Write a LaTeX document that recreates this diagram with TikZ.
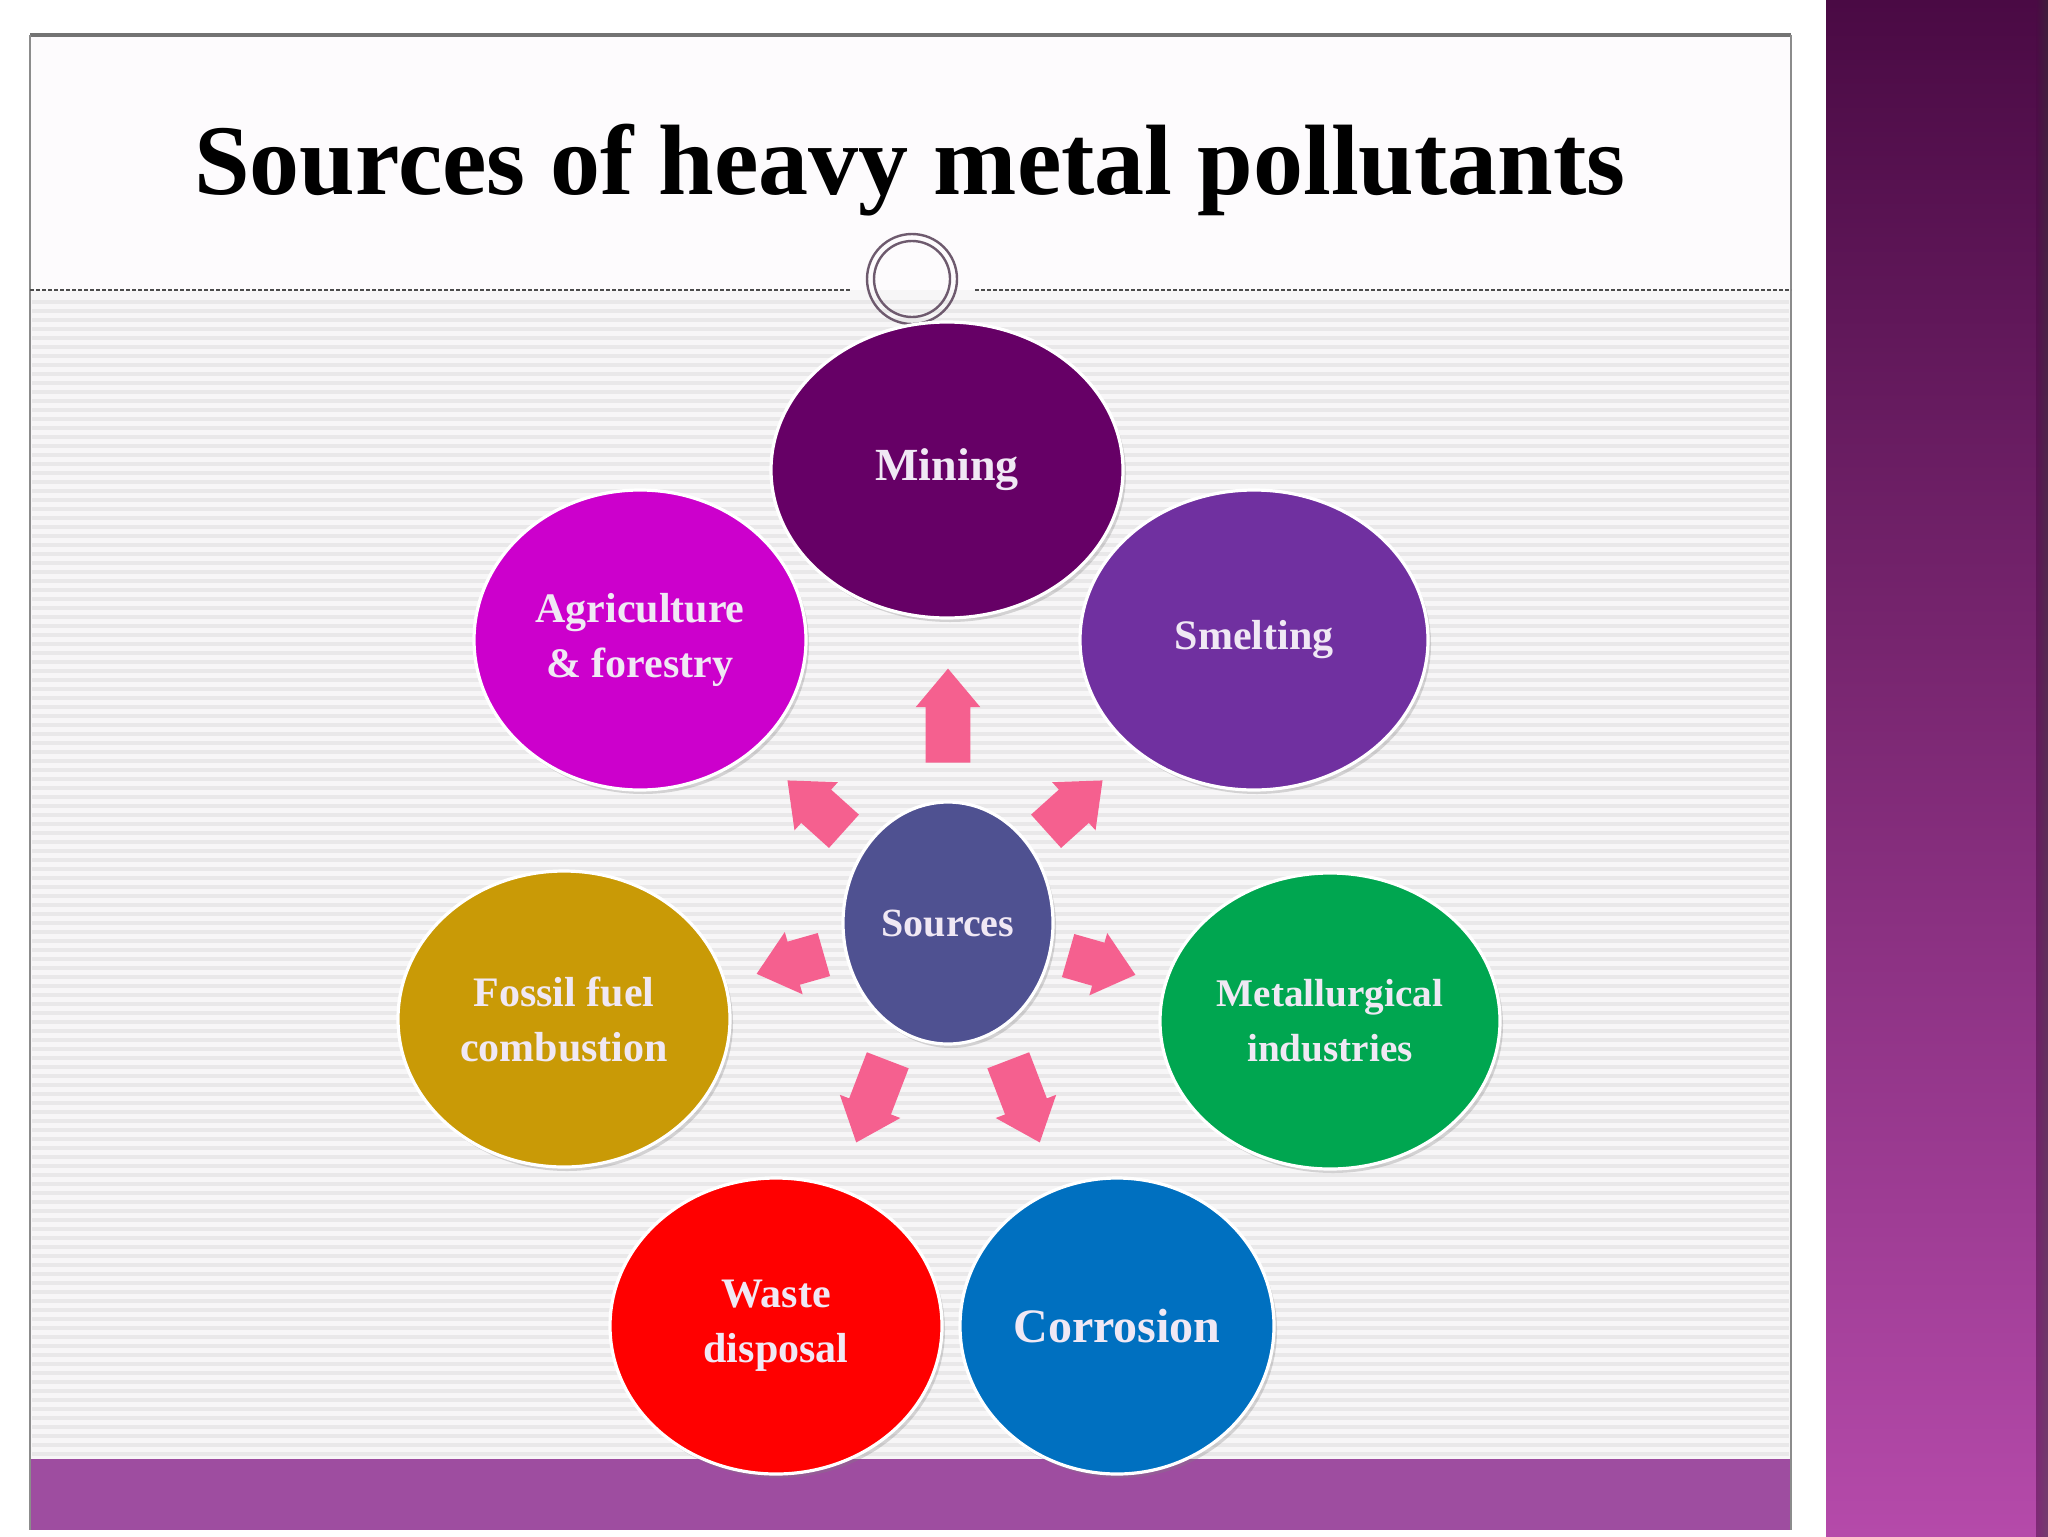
\documentclass[tikz,border=0pt]{standalone}
\usepackage{fontspec}
\setmainfont{Liberation Serif}
\usetikzlibrary{shapes.geometric,shapes.arrows,shadows}
\definecolor{bandtop}{HTML}{4A0A44}
\definecolor{bandbot}{HTML}{B54AAA}
\definecolor{bottomband}{HTML}{9E4DA0}
\definecolor{topbg}{HTML}{FDFBFD}
\definecolor{stripebg}{HTML}{F7F6F7}
\definecolor{stripec}{HTML}{E9E8E9}
\definecolor{ringc}{HTML}{6E5A6E}
\definecolor{txtc}{HTML}{F0E8F4}
\definecolor{pinkc}{HTML}{F5608F}
\definecolor{cmining}{HTML}{660066}
\definecolor{csmelt}{HTML}{7030A0}
\definecolor{cagri}{HTML}{CC00CC}
\definecolor{cfossil}{HTML}{C99A06}
\definecolor{cmetal}{HTML}{00A650}
\definecolor{cwaste}{HTML}{FF0000}
\definecolor{ccorr}{HTML}{0070C0}
\definecolor{csrc}{HTML}{4F5191}
\begin{document}
\begin{tikzpicture}[x=0.5pt,y=-0.5pt,
  blob/.style={ellipse, draw=white, line width=1.6pt, inner sep=0pt, text=txtc,
    font=\bfseries\fontsize{21}{27.5}\selectfont, align=center,
    drop shadow={shadow xshift=1.5pt, shadow yshift=-2pt, opacity=0.3}},
  blockarrow/.style={single arrow, fill=pinkc, draw=none, anchor=tip,
    inner xsep=0pt, inner ysep=11pt, single arrow head extend=5pt,
    single arrow tip angle=80},
  dashline/.style={draw=black!70, line width=1.2pt, dash pattern=on 2pt off 1pt}]
\useasboundingbox (0,0) rectangle (2048,1536);
\fill[white] (0,0) rectangle (2048,1536);
% right decorative band
\shade[top color=bandtop, bottom color=bandbot] (1826,0) rectangle (2048,1536);
\shade[left color=bandbot!0!bandtop, right color=black!80, opacity=0.5] (2036,0) rectangle (2048,1536);
% slide panel
\fill[topbg] (30,35) rectangle (1791,290);
\fill[stripebg] (30,290) rectangle (1791,1459);
\foreach \yy in {300,309,...,1452} \fill[stripec] (32,\yy) rectangle (1789,\yy+4);
\fill[bottomband] (30,1459) rectangle (1791,1530);
\draw[black!55, line width=2pt] (30,35) -- (1791,35);
\draw[black!45, line width=0.8pt] (30,35) -- (30,1530);
\draw[black!45, line width=0.8pt] (1791,35) -- (1791,1530);
% title
\node[font=\bfseries\fontsize{50}{56}\selectfont] (title) at (910,170) {Sources of heavy metal pollutants};
% dashed rule and ring
\draw[dashline] (30,290) -- (850,290);
\draw[dashline] (975,290) -- (1791,290);
\node[circle, draw=ringc, line width=1.2pt, minimum size=45pt, inner sep=0pt] (ringout) at (912,279) {};
\node[circle, draw=ringc, line width=1.2pt, minimum size=38pt, inner sep=0pt] (ringin) at (912,279) {};
% circles
\node[blob, fill=cmining, minimum width=176pt, minimum height=148pt, font=\bfseries\fontsize{23}{28}\selectfont] (mining) at (947,470) {Mining};
\node[blob, fill=csmelt, minimum width=174pt, minimum height=150pt] (smelt) at (1254,640) {Smelting};
\node[blob, fill=cagri, minimum width=166pt, minimum height=150pt] (agri) at (640,640) {Agriculture\\\& forestry};
\node[blob, fill=cfossil, minimum width=166pt, minimum height=148pt] (fossil) at (564,1019) {Fossil fuel\\combustion};
\node[blob, fill=cmetal, minimum width=170pt, minimum height=148pt, font=\bfseries\fontsize{19.6}{27.5}\selectfont] (metal) at (1330,1021) {Metallurgical\\industries};
\node[blob, fill=cwaste, minimum width=166pt, minimum height=148pt] (waste) at (776,1326) {Waste\\disposal};
\node[blob, fill=ccorr, minimum width=157pt, minimum height=148pt, font=\bfseries\fontsize{24}{28}\selectfont] (corr) at (1117,1326) {Corrosion};
\node[blob, fill=csrc, minimum width=105pt, minimum height=121pt, font=\bfseries\fontsize{20}{24}\selectfont] (src) at (948,923) {Sources};
% block arrows (placed by their tips)
\node[blockarrow, minimum height=47pt, rotate=90] (a1) at (948,668) {};
\node[blockarrow, minimum height=38pt, rotate=138] (a2) at (787,780) {};
\node[blockarrow, minimum height=38pt, rotate=42] (a3) at (1103,780) {};
\node[blockarrow, minimum height=35pt, rotate=196] (a4) at (756,974) {};
\node[blockarrow, minimum height=35pt, rotate=-16] (a5) at (1136,975) {};
\node[blockarrow, minimum height=44pt, rotate=249] (a6) at (856,1143) {};
\node[blockarrow, minimum height=44pt, rotate=-69] (a7) at (1040,1143) {};
\end{tikzpicture}
\end{document}
